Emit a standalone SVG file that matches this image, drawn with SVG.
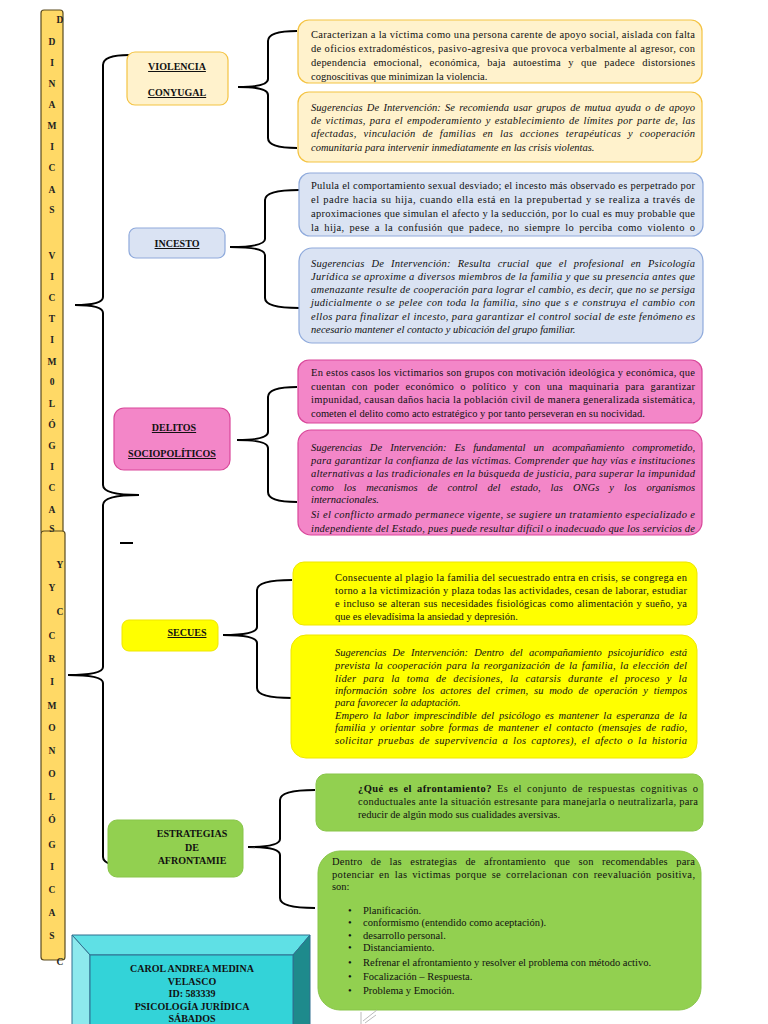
<svg xmlns="http://www.w3.org/2000/svg" width="768" height="1024" viewBox="0 0 768 1024">
<style>
.t{font-family:"Liberation Serif","Times New Roman",serif;font-size:10.5px;fill:#111}
.i{font-style:italic}
.lab{font-family:"Liberation Serif","Times New Roman",serif;font-weight:bold;font-size:10px;text-anchor:middle;fill:#111}
.u{text-decoration:underline}
.bl{font-family:"Liberation Serif","Times New Roman",serif;font-weight:bold;font-size:9.5px;text-anchor:middle;fill:#222}
.bar{fill:#FFD966;stroke:#5B4B1E;stroke-width:1.2}
.br{fill:none;stroke:#000;stroke-width:2}
.yel{fill:#FFF2CC;stroke:#F4C343;stroke-width:1.2}
.blu{fill:#DAE3F3;stroke:#8FAADC;stroke-width:1.2}
.pnk{fill:#F386C8;stroke:#D9479A;stroke-width:1.2}
.ylw{fill:#FFFF00;stroke:#EFE600;stroke-width:1}
.grn{fill:#92D050;stroke:#88C548;stroke-width:1}
</style>
<rect width="768" height="1024" fill="#fff"/>

<g id="bar-dinamicas">
<rect class="bar" x="41" y="10" width="22" height="524" rx="3"/>
<text class="bl" x="60" y="23">D</text>
<text class="bl" x="52" y="45">D</text>
<text class="bl" x="52" y="66">I</text>
<text class="bl" x="52" y="87">N</text>
<text class="bl" x="52" y="108">A</text>
<text class="bl" x="52" y="129">M</text>
<text class="bl" x="52" y="150">I</text>
<text class="bl" x="52" y="171">C</text>
<text class="bl" x="52" y="193">A</text>
<text class="bl" x="52" y="213">S</text>
<text class="bl" x="52" y="259">V</text>
<text class="bl" x="52" y="280">I</text>
<text class="bl" x="52" y="301">C</text>
<text class="bl" x="52" y="322">T</text>
<text class="bl" x="52" y="343">I</text>
<text class="bl" x="52" y="365">M</text>
<text class="bl" x="52" y="385">0</text>
<text class="bl" x="52" y="407">L</text>
<text class="bl" x="52" y="428">Ó</text>
<text class="bl" x="52" y="449">G</text>
<text class="bl" x="52" y="470">I</text>
<text class="bl" x="52" y="491">C</text>
<text class="bl" x="52" y="513">A</text>
</g>

<g id="bar-criminologicas">
<rect class="bar" x="41" y="531" width="24" height="429" rx="3"/>
<text class="bl" x="52" y="532">S</text>
<text class="bl" x="60" y="568">Y</text>
<text class="bl" x="52" y="591">Y</text>
<text class="bl" x="60" y="615">C</text>
<text class="bl" x="52" y="639">C</text>
<text class="bl" x="52" y="662">R</text>
<text class="bl" x="52" y="685">I</text>
<text class="bl" x="52" y="709">M</text>
<text class="bl" x="52" y="731">O</text>
<text class="bl" x="52" y="754">N</text>
<text class="bl" x="52" y="777">O</text>
<text class="bl" x="52" y="800">L</text>
<text class="bl" x="52" y="823">Ó</text>
<text class="bl" x="52" y="848">G</text>
<text class="bl" x="52" y="870">I</text>
<text class="bl" x="52" y="893">C</text>
<text class="bl" x="52" y="916">A</text>
<text class="bl" x="52" y="939">S</text>
<text class="bl" x="60" y="965">C</text>
</g>

<g id="connectors">
<path class="br" d="M129,55 Q103,55 103,65 L103,297 Q103,305 75,305 Q103,305 103,313 L103,485 Q103,495 139,495"/>
<path class="br" d="M139,495 Q103,495 103,505 L103,667 Q103,675 68,675 Q103,675 103,683 L103,857 Q103,867 139,867"/>
<path class="br" d="M120,543 L133,543" stroke-width="1.5"/>
<path class="br" d="M297,31 Q268,31 268,41 L268,79 Q268,87 238,87 Q268,87 268,95 L268,138 Q268,148 297,148"/>
<path class="br" d="M299,190 Q265,190 265,200 L265,239 Q265,247 230,247 Q265,247 265,255 L265,298 Q265,308 299,308"/>
<path class="br" d="M297,387 Q268,387 268,397 L268,432 Q268,440 237,440 Q268,440 268,448 L268,492 Q268,502 297,502"/>
<path class="br" d="M292,580 Q257,580 257,590 L257,627 Q257,635 223,635 Q257,635 257,643 L257,688 Q257,698 292,698"/>
<path class="br" d="M315,790 Q280,790 280,800 L280,839 Q280,847 248,847 Q280,847 280,855 L280,898 Q280,908 315,908"/>
</g>

<g id="node-violencia">
<rect class="yel" x="127" y="52" width="101" height="53" rx="8"/>
<text class="lab u" x="177" y="70">VIOLENCIA</text>
<text class="lab u" x="177" y="96">CONYUGAL</text>
</g>
<g id="node-violencia-1">
<rect class="yel" x="298" y="20" width="404" height="63" rx="11"/>
<text class="t" x="311" y="37.5" textLength="384" lengthAdjust="spacing">Caracterizan a la víctima como una persona carente de apoyo social, aislada con falta</text>
<text class="t" x="311" y="51.5" textLength="384" lengthAdjust="spacing">de oficios extradomésticos, pasivo-agresiva que provoca verbalmente al agresor, con</text>
<text class="t" x="311" y="65.5" textLength="384" lengthAdjust="spacing" word-spacing="4.5">dependencia emocional, económica, baja autoestima y que padece distorsiones</text>
<text class="t" x="311" y="79.5">cognoscitivas que minimizan la violencia.</text>
</g>
<g id="node-violencia-2">
<rect class="yel" x="298" y="92" width="404" height="70" rx="11"/>
<text class="t i" x="311" y="111" textLength="384" lengthAdjust="spacing" word-spacing="1.5">Sugerencias De Intervención: Se recomienda usar grupos de mutua ayuda o de apoyo</text>
<text class="t i" x="311" y="124" textLength="384" lengthAdjust="spacing" word-spacing="1.2">de victimas, para el empoderamiento y establecimiento de límites por parte de, las</text>
<text class="t i" x="311" y="137" textLength="384" lengthAdjust="spacing" word-spacing="4">afectadas, vinculación de familias en las acciones terapéuticas y cooperación</text>
<text class="t i" x="311" y="151">comunitaria para intervenir inmediatamente en las crisis violentas.</text>
</g>

<g id="node-incesto">
<rect class="blu" x="129" y="228" width="96" height="30" rx="7"/>
<text class="lab u" x="177" y="247">INCESTO</text>
</g>
<g id="node-incesto-1">
<rect class="blu" x="299" y="173" width="404" height="63" rx="11"/>
<text class="t" x="311" y="189" textLength="384" lengthAdjust="spacing">Pulula el comportamiento sexual desviado; el incesto más observado es perpetrado por</text>
<text class="t" x="311" y="203" textLength="384" lengthAdjust="spacing" word-spacing="0.5">el padre hacia su hija, cuando ella está en la prepubertad y se realiza a través de</text>
<text class="t" x="311" y="217" textLength="384" lengthAdjust="spacing">aproximaciones que simulan el afecto y la seducción, por lo cual es muy probable que</text>
<text class="t" x="311" y="231" textLength="384" lengthAdjust="spacing" word-spacing="2">la hija, pese a la confusión que padece, no siempre lo perciba como violento o</text>
</g>
<g id="node-incesto-2">
<rect class="blu" x="299" y="248" width="404" height="95" rx="13"/>
<text class="t i" x="311" y="267" textLength="384" lengthAdjust="spacing" word-spacing="4">Sugerencias De Intervención: Resulta crucial que el profesional en Psicología</text>
<text class="t i" x="311" y="280" textLength="384" lengthAdjust="spacing">Jurídica se aproxime a diversos miembros de la familia y que su presencia antes que</text>
<text class="t i" x="311" y="293" textLength="384" lengthAdjust="spacing">amenazante resulte de cooperación para lograr el cambio, es decir, que no se persiga</text>
<text class="t i" x="311" y="306" textLength="384" lengthAdjust="spacing" word-spacing="1">judicialmente o se pelee con toda la familia, sino que s e construya el cambio con</text>
<text class="t i" x="311" y="320" textLength="384" lengthAdjust="spacing">ellos para finalizar el incesto, para garantizar el control social de este fenómeno es</text>
<text class="t i" x="311" y="333">necesario mantener el contacto y ubicación del grupo familiar.</text>
</g>

<g id="node-delitos">
<rect class="pnk" x="114" y="408" width="116" height="62" rx="10"/>
<text class="lab u" x="174" y="431">DELITOS</text>
<text class="lab u" x="172" y="457">SOCIOPOLÍTICOS</text>
</g>
<g id="node-delitos-1">
<rect class="pnk" x="298" y="360" width="404" height="63" rx="11"/>
<text class="t" x="311" y="376" textLength="384" lengthAdjust="spacing">En estos casos los victimarios son grupos con motivación ideológica y económica, que</text>
<text class="t" x="311" y="390" textLength="384" lengthAdjust="spacing" word-spacing="3.4">cuentan con poder económico o político y con una maquinaria para garantizar</text>
<text class="t" x="311" y="403" textLength="384" lengthAdjust="spacing">impunidad, causan daños hacia la población civil de manera generalizada sistemática,</text>
<text class="t" x="311" y="417">cometen el delito como acto estratégico y por tanto perseveran en su nocividad.</text>
</g>
<g id="node-delitos-2">
<rect class="pnk" x="298" y="430" width="404" height="105" rx="13"/>
<text class="t i" x="311" y="451" textLength="384" lengthAdjust="spacing" word-spacing="5.5">Sugerencias De Intervención: Es fundamental un acompañamiento comprometido,</text>
<text class="t i" x="311" y="464" textLength="384" lengthAdjust="spacing">para garantizar la confianza de las víctimas. Comprender que hay vías e instituciones</text>
<text class="t i" x="311" y="477" textLength="384" lengthAdjust="spacing">alternativas a las tradicionales en la búsqueda de justicia, para superar la impunidad</text>
<text class="t i" x="311" y="491" textLength="384" lengthAdjust="spacing" word-spacing="7.5">como los mecanismos de control del estado, las ONGs y los organismos</text>
<text class="t i" x="311" y="503">internacionales.</text>
<text class="t i" x="311" y="518" textLength="384" lengthAdjust="spacing">Si el conflicto armado permanece vigente, se sugiere un tratamiento especializado e</text>
<text class="t i" x="311" y="532" textLength="384" lengthAdjust="spacing">independiente del Estado, pues puede resultar difícil o inadecuado que los servicios de</text>
</g>

<g id="node-secues">
<rect class="ylw" x="122" y="620" width="96" height="31" rx="7"/>
<text class="lab u" x="187" y="636">SECUES</text>
</g>
<g id="node-secues-1">
<rect class="ylw" x="293" y="562" width="404" height="63" rx="11"/>
<text class="t" x="335" y="580.5" textLength="352" lengthAdjust="spacing">Consecuente al plagio la familia del secuestrado entra en crisis, se congrega en</text>
<text class="t" x="335" y="593.5" textLength="352" lengthAdjust="spacing">torno a la victimización y plaza todas las actividades, cesan de laborar, estudiar</text>
<text class="t" x="335" y="606.5" textLength="352" lengthAdjust="spacing" word-spacing="0.8">e incluso se alteran sus necesidades fisiológicas como alimentación y sueño, ya</text>
<text class="t" x="335" y="619.5">que es elevadísima la ansiedad y depresión.</text>
</g>
<g id="node-secues-2">
<rect class="ylw" x="291" y="635" width="406" height="123" rx="15"/>
<text class="t i" x="335" y="655.5" textLength="352" lengthAdjust="spacing" word-spacing="3.5">Sugerencias De Intervención: Dentro del acompañamiento psicojurídico está</text>
<text class="t i" x="335" y="668.5" textLength="352" lengthAdjust="spacing" word-spacing="1.3">prevista la cooperación para la reorganización de la familia, la elección del</text>
<text class="t i" x="335" y="681.5" textLength="352" lengthAdjust="spacing" word-spacing="4">líder para la toma de decisiones, la catarsis durante el proceso y la</text>
<text class="t i" x="335" y="693.5" textLength="352" lengthAdjust="spacing" word-spacing="3">información sobre los actores del crimen, su modo de operación y tiempos</text>
<text class="t i" x="335" y="705.5">para favorecer la adaptación.</text>
<text class="t i" x="335" y="718.5" textLength="352" lengthAdjust="spacing" word-spacing="1.8">Empero la labor imprescindible del psicólogo es mantener la esperanza de la</text>
<text class="t i" x="335" y="730.5" textLength="352" lengthAdjust="spacing" word-spacing="2">familia y orientar sobre formas de mantener el contacto (mensajes de radio,</text>
<text class="t i" x="335" y="743.5" textLength="352" lengthAdjust="spacing" word-spacing="2">solicitar pruebas de supervivencia a los captores), el afecto o la historia</text>
</g>

<g id="node-estrategias">
<rect class="grn" x="108" y="820" width="135" height="57" rx="9"/>
<text class="lab" x="192" y="837">ESTRATEGIAS</text>
<text class="lab" x="192" y="851">DE</text>
<text class="lab" x="192" y="864">AFRONTAMIE</text>
</g>
<g id="node-estrategias-1">
<rect class="grn" x="316" y="774" width="387" height="57" rx="10"/>
<text class="t" x="358" y="791.5" textLength="340" lengthAdjust="spacing" word-spacing="2.2"><tspan font-weight="bold">¿Qué es el afrontamiento?</tspan> Es el conjunto de respuestas cognitivas o</text>
<text class="t" x="358" y="804.5" textLength="340" lengthAdjust="spacing">conductuales ante la situación estresante para manejarla o neutralizarla, para</text>
<text class="t" x="358" y="817.5">reducir de algún modo sus cualidades aversivas.</text>
</g>
<g id="node-estrategias-2">
<rect class="grn" x="318" y="851" width="383" height="159" rx="22"/>
<text class="t" x="332" y="864.5" textLength="363" lengthAdjust="spacing" word-spacing="5.5">Dentro de las estrategias de afrontamiento que son recomendables para</text>
<text class="t" x="332" y="877.5" textLength="363" lengthAdjust="spacing" word-spacing="2">potenciar en las victimas porque se correlacionan con reevaluación positiva,</text>
<text class="t" x="332" y="889.5">son:</text>
<text class="t" x="348" y="913.5">•</text><text class="t" x="363" y="913.5">Planificación.</text>
<text class="t" x="348" y="925.5">•</text><text class="t" x="363" y="925.5">conformismo (entendido como aceptación).</text>
<text class="t" x="348" y="938.5">•</text><text class="t" x="363" y="938.5">desarrollo personal.</text>
<text class="t" x="348" y="950.5">•</text><text class="t" x="363" y="950.5">Distanciamiento.</text>
<text class="t" x="348" y="965.5">•</text><text class="t" x="363" y="965.5">Refrenar el afrontamiento y resolver el problema con método activo.</text>
<text class="t" x="348" y="979.5">•</text><text class="t" x="363" y="979.5">Focalización – Respuesta.</text>
<text class="t" x="348" y="993.5">•</text><text class="t" x="363" y="993.5">Problema y Emoción.</text>
</g>

<g id="node-autor">
<polygon points="72,935 310,935 293,955 90,955" fill="#5FE0E5" stroke="#2F6F8F" stroke-width="1"/>
<polygon points="72,935 90,955 90,1030 72,1030" fill="#8DE9ED" stroke="#2F6F8F" stroke-width="1"/>
<polygon points="310,935 293,955 293,1030 310,1030" fill="#1E8A8C" stroke="#2F6F8F" stroke-width="1"/>
<rect x="90" y="955" width="203" height="75" fill="#33D3D8" stroke="#2F6F8F" stroke-width="1"/>
<text class="lab" x="192" y="972" font-size="11">CAROL ANDREA MEDINA</text>
<text class="lab" x="192" y="984.5" font-size="11">VELASCO</text>
<text class="lab" x="192" y="997" font-size="11">ID: 583339</text>
<text class="lab" x="192" y="1010" font-size="11">PSICOLOGÍA JURÍDICA</text>
<text class="lab" x="192" y="1022" font-size="11">SÁBADOS</text>
</g>

<g id="sketch" fill="none" stroke="#bbb" stroke-width="1">
<path d="M361,1012 L361,1024"/>
<path d="M363,1021 L377,1010"/>
<path d="M365,1023 L376,1015"/>
</g>
</svg>
